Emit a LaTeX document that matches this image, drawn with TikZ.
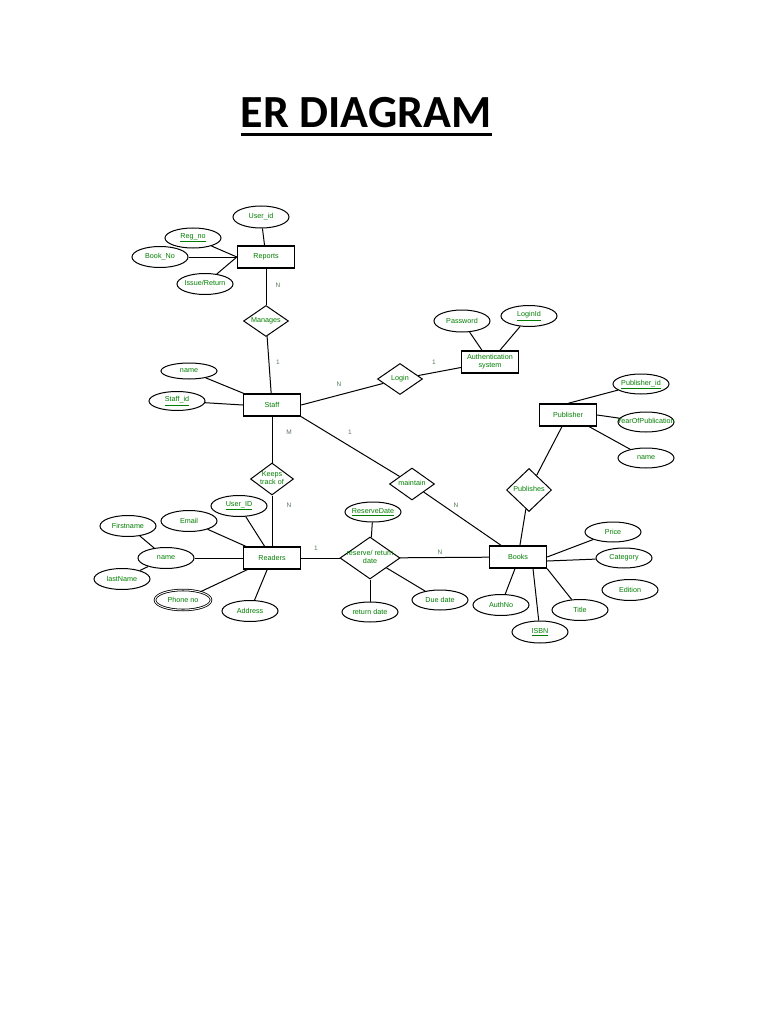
\documentclass[tikz,border=0pt]{standalone}
\usepackage{fontspec}
\setmainfont{Liberation Sans}
\newfontfamily\titlefont{Carlito}
\usetikzlibrary{shapes.geometric}
\definecolor{ergreen}{RGB}{0,125,0}
\definecolor{cardgray}{RGB}{90,120,90}
\newcommand{\ovl}[1]{\makebox[0pt]{\begin{tabular}{@{}c@{}}#1\end{tabular}}}
\tikzset{
  entity/.style={draw, line width=1.3pt, minimum width=57pt, minimum height=22pt,
    inner sep=0pt, text=ergreen, font=\fontsize{7.2}{8}\selectfont, align=center},
  attr/.style={ellipse, draw, line width=1pt, minimum width=56pt, minimum height=21pt,
    inner sep=0pt, text=ergreen, font=\fontsize{7.2}{8}\selectfont},
  rel/.style={diamond, draw, line width=1pt, minimum width=45pt, minimum height=31pt,
    inner sep=0pt, text=ergreen, font=\fontsize{7.2}{8}\selectfont},
  card/.style={text=cardgray, font=\fontsize{6.5}{7}\selectfont, inner sep=0pt},
  link/.style={line width=1pt},
}
\begin{document}
\begin{tikzpicture}[x=1pt,y=-1pt]
  \useasboundingbox (0,0) rectangle (768,1024);
  % title
  \node[font=\titlefont\bfseries\fontsize{46}{52}\selectfont, inner sep=0pt, anchor=base]
    (title) at (366,128) {ER DIAGRAM};
  \draw[line width=3pt] ([yshift=-7pt]title.base west) -- ([yshift=-7pt]title.base east);

  % entities
  \node[entity] (reports) at (266,257) {Reports};
  \node[entity] (staff) at (272,405) {Staff};
  \node[entity] (auth) at (490,362) {Authentication\\system};
  \node[entity] (publisher) at (568,415) {Publisher};
  \node[entity] (readers) at (272,558) {Readers};
  \node[entity] (books) at (518,557) {Books};

  % relationships
  \node[rel] (manages) at (266,321) {\ovl{Manages}};
  \node[rel] (login) at (400,379) {\ovl{Login}};
  \node[rel, minimum width=43pt, minimum height=32pt] (keeps) at (272,479) {\ovl{Keeps\\track of}};
  \node[rel, minimum height=32pt] (maintain) at (412,484) {\ovl{maintain}};
  \node[rel, minimum height=43pt] (publishes) at (529,490) {\ovl{Publishes}};
  \node[rel, minimum width=60pt, minimum height=42pt] (reserve) at (370,558) {\ovl{reserve/ return\\date}};

  % attributes of Reports
  \node[attr, minimum height=22pt] (userid) at (261,217) {User\_id};
  \node[attr, minimum height=20pt] (regno) at (193,238) {\underline{Reg\_no}};
  \node[attr] (bookno) at (160,257) {Book\_No};
  \node[attr] (issue) at (205,284) {\ovl{Issue/Return}};

  % attributes of Staff
  \node[attr, minimum height=16pt] (sname) at (189,371) {name};
  \node[attr, minimum height=19pt] (staffid) at (177,401) {\underline{Staff\_id}};

  % attributes of Authentication system
  \node[attr, minimum height=22pt] (password) at (462,321) {Password};
  \node[attr] (loginid) at (529,316) {\underline{LoginId}};

  % attributes of Publisher
  \node[attr, minimum height=20pt] (pubid) at (641,384) {\ovl{\underline{Publisher\_id}}};
  \node[attr, minimum height=20pt] (year) at (646,422) {\ovl{YearOfPublication}};
  \node[attr, minimum height=20pt] (pname) at (646,458) {name};

  % attributes of Readers
  \node[attr] (userID) at (239,506) {\underline{User\_ID}};
  \node[attr] (email) at (189,521) {Email};
  \node[attr] (fname) at (128,526) {Firstname};
  \node[attr] (rname) at (166,558) {name};
  \node[attr] (lname) at (122,579) {lastName};
  \node[attr, minimum height=20pt, line width=0.8pt, double, double distance=0.9pt] (phone) at (183,600) {Phone no};
  \node[attr] (address) at (250,611) {Address};

  % attributes of reserve/return
  \node[attr, minimum height=20pt] (rdate) at (373,512) {\ovl{\underline{ReserveDate}}};
  \node[attr, minimum height=20pt] (retdate) at (370,612) {return date};
  \node[attr, minimum height=20pt] (duedate) at (440,600) {Due date};

  % attributes of Books
  \node[attr, minimum height=20pt] (price) at (613,532) {Price};
  \node[attr, minimum height=20pt] (category) at (624,558) {Category};
  \node[attr] (edition) at (630,590) {Edition};
  \node[attr] (title2) at (580,610) {Title};
  \node[attr, minimum height=22pt] (isbn) at (540,632) {\underline{ISBN}};
  \node[attr] (authno) at (501,605) {AuthNo};

  % cardinalities
  \node[card] (c1) at (278,285) {N};
  \node[card] (c2) at (278,362) {1};
  \node[card] (c3) at (339,384) {N};
  \node[card] (c4) at (434,362) {1};
  \node[card] (c5) at (289,432) {M};
  \node[card] (c6) at (350,432) {1};
  \node[card] (c7) at (289,505) {N};
  \node[card] (c8) at (456,505) {N};
  \node[card] (c9) at (316,548) {1};
  \node[card] (c10) at (440,552) {N};

  \begin{scope}[link]
    \draw (userid) -- (reports);
    \draw (regno) -- (reports.west);
    \draw (bookno) -- (reports.west);
    \draw (issue) -- (reports.west);
    \draw (reports) -- (manages);
    \draw (manages) -- (staff);
    \draw (sname) -- (staff);
    \draw (staffid) -- (staff.west);
    \draw (staff.east) -- (login);
    \draw (login) -- (auth);
    \draw (password) -- (auth);
    \draw (loginid) -- (auth);
    \draw (staff) -- (keeps);
    \draw (staff.south east) -- (maintain);
    \draw (maintain) -- (books);
    \draw (keeps) -- (readers);
    \draw (userID) -- (readers);
    \draw (email) -- (readers);
    \draw (fname) -- (rname);
    \draw (lname) -- (rname);
    \draw (rname) -- (readers);
    \draw (phone) -- (readers);
    \draw (address) -- (readers);
    \draw (readers) -- (reserve);
    \draw (rdate) -- (reserve);
    \draw (reserve) -- (retdate);
    \draw (reserve) -- (duedate);
    \draw (reserve) -- (books);
    \draw (publisher.north) -- (pubid);
    \draw (publisher.east) -- (year);
    \draw (publisher) -- (pname);
    \draw (publisher) -- (publishes);
    \draw (publishes) -- (books);
    \draw (books.east) -- (price);
    \draw ([yshift=-4pt]books.east) -- (category);
    \draw (books.south east) -- (title2);
    \draw ([xshift=15pt]books.south) -- (isbn);
    \draw ([xshift=-3pt]books.south) -- (authno);
  \end{scope}
\end{tikzpicture}
\end{document}
